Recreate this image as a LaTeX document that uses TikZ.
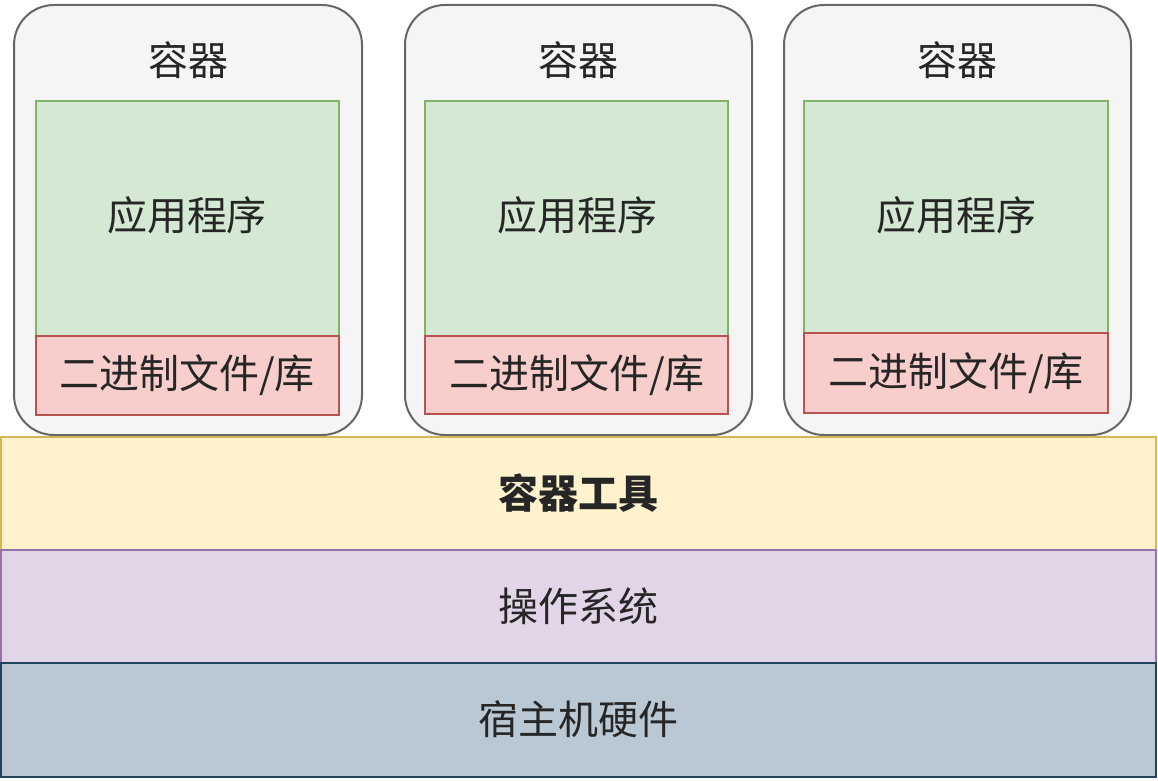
\documentclass[tikz,border=0pt]{standalone}
\usepackage{fontspec}
\setmainfont{Noto Sans CJK SC}
\begin{document}
\begin{tikzpicture}[x=0.75pt,y=-0.75pt,
  box/.style={draw,line width=1.5pt},
  cont/.style={box,fill=cf,draw=cd,rounded corners=30pt},
  lab/.style={font=\fontsize{30}{34}\selectfont,text=black!85}]
\definecolor{cf}{HTML}{F5F5F5}\definecolor{cd}{HTML}{666666}
\definecolor{gf}{HTML}{D5E8D4}\definecolor{gd}{HTML}{82B366}
\definecolor{rf}{HTML}{F8CECC}\definecolor{rd}{HTML}{B85450}
\definecolor{yf}{HTML}{FFF2CC}\definecolor{yd}{HTML}{D6B656}
\definecolor{pf}{HTML}{E1D5E7}\definecolor{pd}{HTML}{9673A6}
\definecolor{bf}{HTML}{BAC8D3}\definecolor{bd}{HTML}{23445D}
\useasboundingbox (0,0) rectangle (1158,781);
\foreach \i/\xa/\xb/\ga/\gb/\gc/\gy/\ry in {1/14/362/36/339/187/336/415,2/405/752/425/728/577/336/414,3/784/1131/804/1108/956/333/413}{
  \draw[cont] (\xa,5) rectangle (\xb,435);
  \node[lab] (t\i) at ({(\xa+\xb)/2},60) {容器};
  \draw[box,fill=gf,draw=gd] (\ga,101) rectangle (\gb,\gy);
  \node[lab] (a\i) at (\gc,215) {应用程序};
  \draw[box,fill=rf,draw=rd] (\ga,\gy) rectangle (\gb,\ry);
  \node[lab] (b\i) at (\gc,{(\gy+\ry)/2}) {二进制文件/库};
}
\draw[box,fill=yf,draw=yd] (1,437) rectangle (1156,550);
\node[lab,font=\fontsize{30}{34}\selectfont\bfseries] (tool) at (578,493) {容器工具};
\draw[box,fill=pf,draw=pd] (1,550) rectangle (1156,663);
\node[lab] (os) at (578,606) {操作系统};
\draw[box,fill=bf,draw=bd] (1,663) rectangle (1156,777);
\node[lab] (hw) at (578,719) {宿主机硬件};
\end{tikzpicture}
\end{document}
